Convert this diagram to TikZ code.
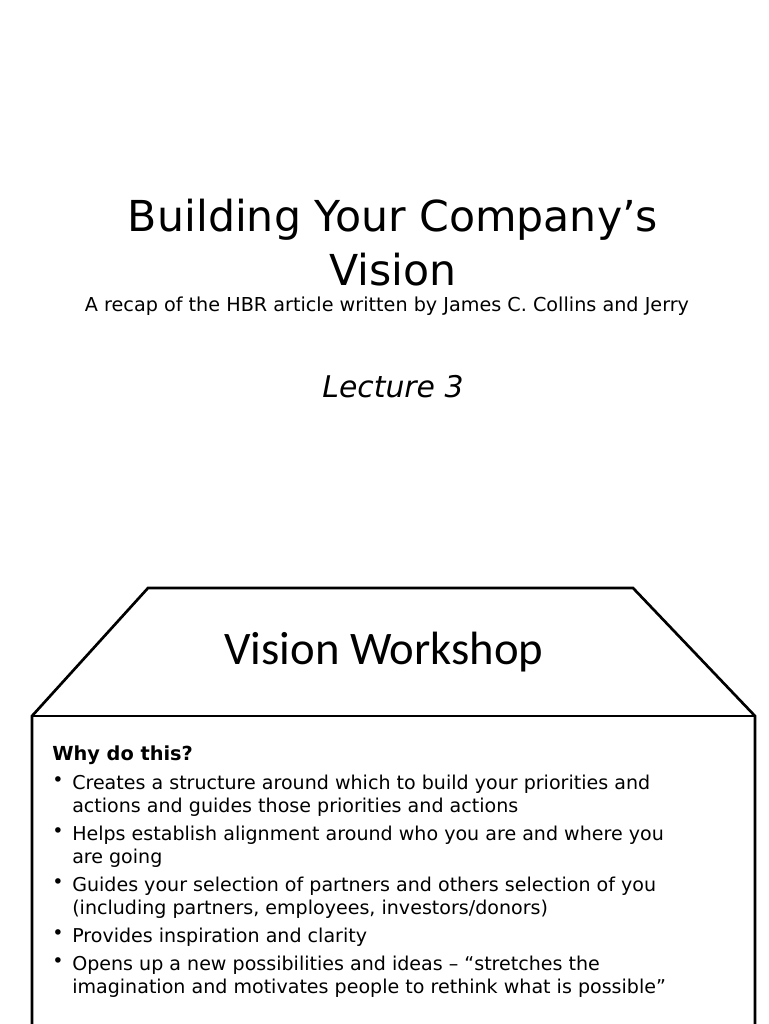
\documentclass[tikz,border=0pt]{standalone}
\usepackage{fontspec}
\setmainfont{DejaVu Sans}
\newfontfamily\carl{Carlito}
\begin{document}
\begin{tikzpicture}[x=0.75pt,y=-0.75pt,
  bul/.style={anchor=north west,align=left,inner sep=0pt,font=\fontsize{14.3}{17.3}\selectfont},
  dot/.style={anchor=north west,inner sep=0pt,font=\fontsize{14.3}{17.3}\selectfont}]
\useasboundingbox (0,0) rectangle (768,1024);
\fill[white] (0,0) rectangle (768,1024);
\node (t1) at (393,220) {\fontsize{32}{36}\selectfont Building Your Company’s};
\node (t2) at (393,270) {\fontsize{32}{36}\selectfont Vision};
\node (sub) at (387,306) {\fontsize{14.4}{16}\selectfont A recap of the HBR article written by James C. Collins and Jerry};
\node (lec) at (393,387) {\fontsize{22.4}{25}\selectfont\itshape Lecture 3};
\draw[line width=2pt,line join=miter] (32,1030) -- (32,716) -- (148,588) -- (633,588) -- (755,716) -- (755,1030);
\draw[line width=2pt] (32,716) -- (755,716);
\node (vw) at (384,652) {\carl\fontsize{35}{40}\selectfont Vision Workshop};
\node[anchor=west,inner sep=0pt] (why) at (52,755) {\fontsize{14.5}{17}\selectfont\bfseries Why do this?};
\foreach \y/\t [count=\i] in {
 775/{Creates a structure around which to build your priorities and\\actions and guides those priorities and actions},
 826/{Helps establish alignment around who you are and where you\\are going},
 877/{Guides your selection of partners and others selection of you\\(including partners, employees, investors/donors)},
 928/{Provides inspiration and clarity},
 956/{Opens up a new possibilities and ideas – “stretches the\\imagination and motivates people to rethink what is possible”}}{
 \node[dot] (d\i) at (52,\y+1) {•};
 \node[bul] (b\i) at (72,\y) {\t};
}
\end{tikzpicture}
\end{document}
